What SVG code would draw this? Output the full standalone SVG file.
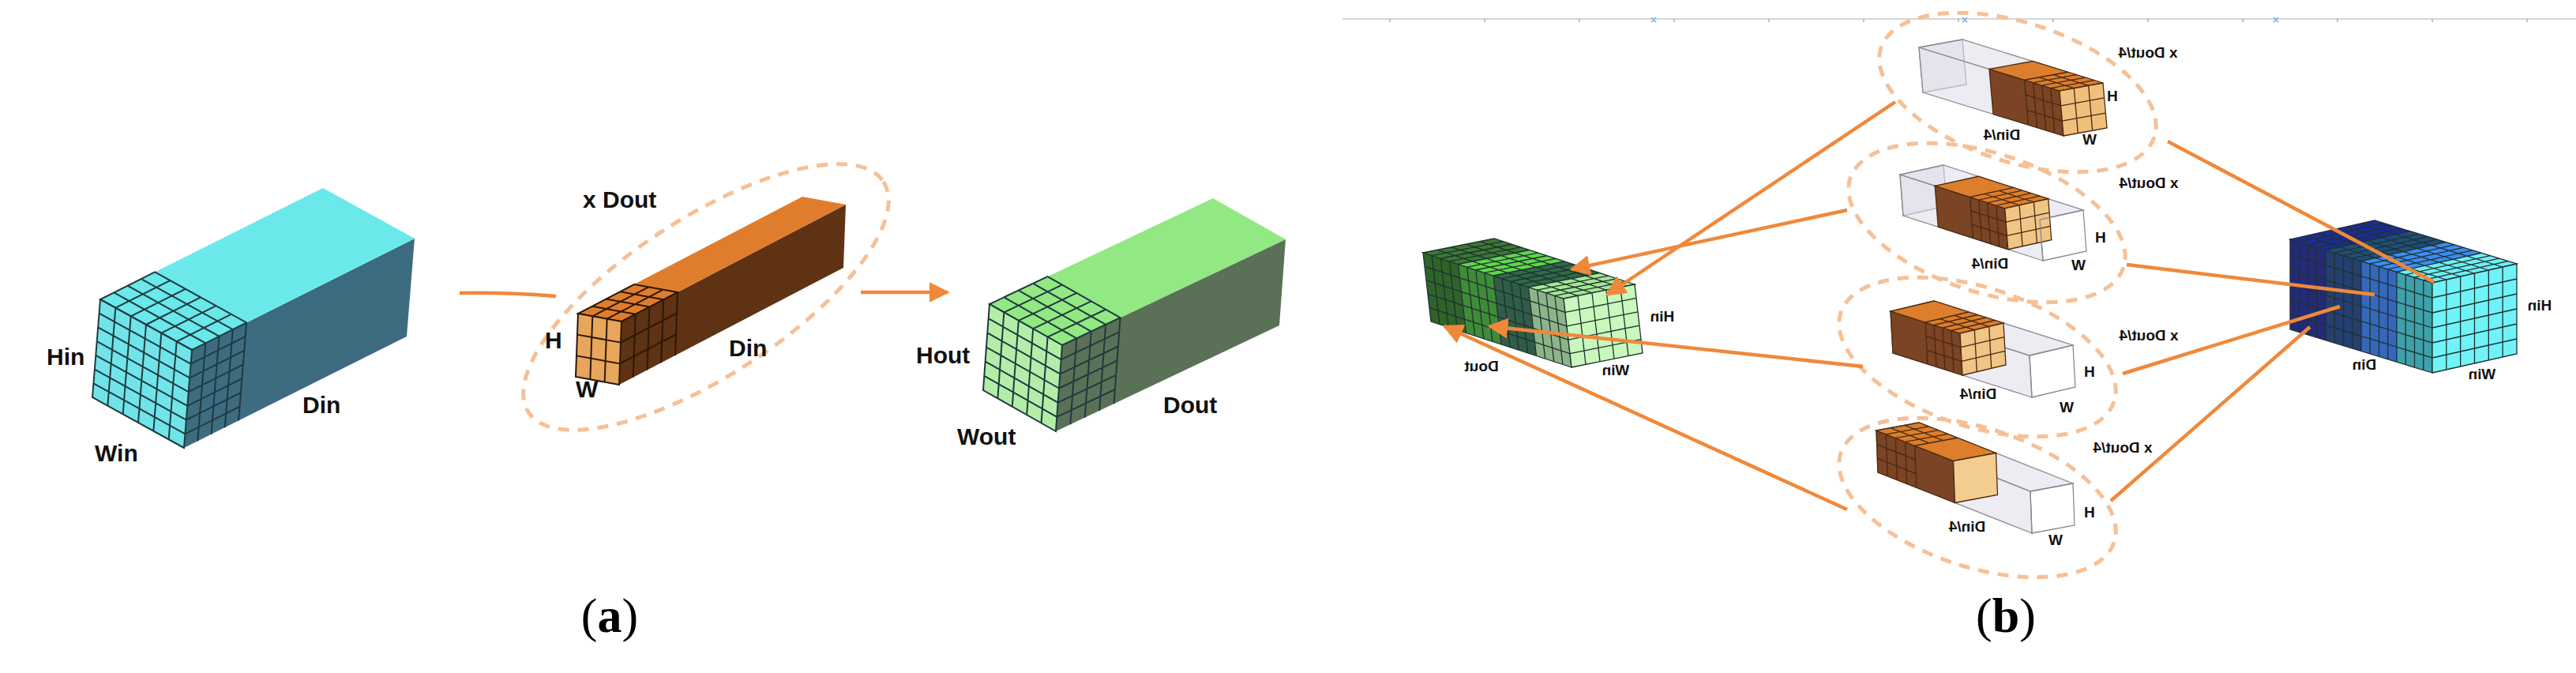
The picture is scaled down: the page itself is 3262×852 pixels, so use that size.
<svg xmlns="http://www.w3.org/2000/svg" width="3262" height="852" viewBox="0 0 3262 852">
<style>
.g{fill:none;stroke:#1f3a40;stroke-width:2;vector-effect:non-scaling-stroke}
.gb{fill:none;stroke:#203030;stroke-width:1.3;vector-effect:non-scaling-stroke}
.go{fill:none;stroke:#4a2a10;stroke-width:1.3;vector-effect:non-scaling-stroke}
.goa{fill:none;stroke:#2a1808;stroke-width:2;vector-effect:non-scaling-stroke}
.wf{fill:#dedce8;fill-opacity:.55;stroke:#8a8a92;stroke-width:1.3;vector-effect:non-scaling-stroke}
.wl{fill:none;stroke:#8a8a92;stroke-width:1.3;vector-effect:non-scaling-stroke}
.la{font-family:"Liberation Sans",Arial,sans-serif;font-weight:bold;font-size:30px;fill:#111}
.lb{font-family:"Liberation Sans",Arial,sans-serif;font-weight:bold;font-size:19px;fill:#111;text-anchor:middle}
.cap{font-family:"Liberation Serif","Times New Roman",serif;font-size:62px;fill:#000;text-anchor:middle}
.ell{fill:none;stroke:#f6c096;stroke-width:5;stroke-dasharray:14 11}
.con{fill:none;stroke:#f0883a;stroke-width:4.5}
</style>
<defs>
<marker id="ah" viewBox="0 0 10 10" refX="9" refY="5" markerWidth="26" markerHeight="26" markerUnits="userSpaceOnUse" orient="auto"><path d="M0 0L10 5L0 10z" fill="#f0883a"/></marker>
</defs>
<rect width="3262" height="852" fill="#fff"/>

<!-- (a) cyan input -->
<g id="cyan-a">
 <g transform="matrix(282 -141 10 -124 233 567)"><rect width="1" height="1" fill="#3d6c80"/><path class="g" d="M.06125 0V1M.1225 0V1M.18375 0V1M.245 0V1M0 .1429H.245M0 .2857H.245M0 .4286H.245M0 .5714H.245M0 .7143H.245M0 .8571H.245"/></g>
 <g transform="matrix(-116 -64 282 -141 243 443)"><rect width="1" height="1" fill="#6ae8ea"/><path class="g" d="M0 0H1V.245H0zM.1667 0V.245M.3333 0V.245M.5 0V.245M.6667 0V.245M.8333 0V.245M0 .06125H1M0 .1225H1M0 .18375H1"/></g>
 <g transform="matrix(-116 -64 10 -124 233 567)"><rect width="1" height="1" fill="#70e4e8"/><path class="g" d="M0 0H1V1H0zM.1667 0V1M.3333 0V1M.5 0V1M.6667 0V1M.8333 0V1M0 .1429H1M0 .2857H1M0 .4286H1M0 .5714H1M0 .7143H1M0 .8571H1"/></g>
 <text class="la" x="59" y="462">Hin</text>
 <text class="la" x="120" y="584">Win</text>
 <text class="la" x="383" y="523">Din</text>
</g>

<!-- (a) orange kernel -->
<g id="kernel-a">
 <ellipse class="ell" cx="894" cy="376" rx="268" ry="100" transform="rotate(-33 894 376)"/>
 <g transform="matrix(284 -148 3 -80 784 487)"><rect width="1" height="1" fill="#5e3213"/><path class="goa" d="M.0625 0V1M.125 0V1M.1875 0V1M.25 0V1M0 .333H.25M0 .667H.25"/></g>
 <g transform="matrix(-55 -10 284 -148 787 407)"><rect width="1" height="1" fill="#e07d2c"/><path class="goa" d="M0 0H1V.25H0zM.333 0V.25M.667 0V.25M0 .0625H1M0 .125H1M0 .1875H1"/></g>
 <g transform="matrix(-55 -10 3 -80 784 487)"><rect width="1" height="1" fill="#e8a55c"/><path class="goa" d="M0 0H1V1H0zM.333 0V1M.667 0V1M0 .333H1M0 .667H1"/></g>
 <text class="la" x="738" y="263">x Dout</text>
 <text class="la" x="690" y="441">H</text>
 <text class="la" x="729" y="503">W</text>
 <text class="la" x="923" y="451">Din</text>
</g>

<!-- (a) green output -->
<g id="green-a">
 <g transform="matrix(283 -134 8 -109 1337 546)"><rect width="1" height="1" fill="#5b7157"/><path class="g" d="M.065 0V1M.13 0V1M.195 0V1M.26 0V1M0 .1667H.26M0 .3333H.26M0 .5H.26M0 .6667H.26M0 .8333H.26"/></g>
 <g transform="matrix(-92 -52 283 -134 1345 437)"><rect width="1" height="1" fill="#92e882"/><path class="g" d="M0 0H1V.26H0zM.2 0V.26M.4 0V.26M.6 0V.26M.8 0V.26M0 .065H1M0 .13H1M0 .195H1"/></g>
 <g transform="matrix(-92 -52 8 -109 1337 546)"><rect width="1" height="1" fill="#b2eea8"/><path class="g" d="M0 0H1V1H0zM.2 0V1M.4 0V1M.6 0V1M.8 0V1M0 .1667H1M0 .3333H1M0 .5H1M0 .6667H1M0 .8333H1"/></g>
 <text class="la" x="1160" y="460">Hout</text>
 <text class="la" x="1212" y="563">Wout</text>
 <text class="la" x="1473" y="523">Dout</text>
</g>

<!-- (b) ruler line -->
<g id="ruler">
 <path d="M1700 24H3262" stroke="#c8c8c8" stroke-width="1.5"/>
 <path d="M1760 24v4M1880 24v4M2000 24v4M2120 24v4M2240 24v4M2360 24v4M2480 24v4M2600 24v4M2720 24v4M2840 24v4M2960 24v4M3080 24v4M3200 24v4" stroke="#b0b0b0" stroke-width="1.5"/>
 <path d="M2091 22l6 6M2097 22l-6 6M2485 22l6 6M2491 22l-6 6M2879 22l6 6M2885 22l-6 6" stroke="#6aa8f0" stroke-width="1.5"/>
</g>

<!-- (b) green output -->
<g id="green-b">
 <g transform="matrix(-178 -58 -10 -87 1990 465)">
  <rect width=".25" height="1" fill="#8db489"/><rect x=".25" width=".25" height="1" fill="#2f5d47"/><rect x=".5" width=".25" height="1" fill="#3e8c38"/><rect x=".75" width=".25" height="1" fill="#2f6429"/>
  <path class="gb" d="M0 0H1V1H0zM.0625 0V1M.125 0V1M.1875 0V1M.25 0V1M.3125 0V1M.375 0V1M.4375 0V1M.5 0V1M.5625 0V1M.625 0V1M.6875 0V1M.75 0V1M.8125 0V1M.875 0V1M.9375 0V1M0 .2H1M0 .4H1M0 .6H1M0 .8H1"/></g>
 <g transform="matrix(90 -18 -178 -58 1980 378)">
  <rect width="1" height=".25" fill="#a4e896"/><rect y=".25" width="1" height=".25" fill="#2e6b48"/><rect y=".5" width="1" height=".25" fill="#5ed84a"/><rect y=".75" width="1" height=".25" fill="#3a7a33"/>
  <path class="gb" d="M0 0H1V1H0zM.2 0V1M.4 0V1M.6 0V1M.8 0V1M0 .0625H1M0 .125H1M0 .1875H1M0 .25H1M0 .3125H1M0 .375H1M0 .4375H1M0 .5H1M0 .5625H1M0 .625H1M0 .6875H1M0 .75H1M0 .8125H1M0 .875H1M0 .9375H1"/></g>
 <g transform="matrix(90 -18 -10 -87 1990 465)"><rect width="1" height="1" fill="#c8f8bc"/><path class="gb" d="M0 0H1V1H0zM.2 0V1M.4 0V1M.6 0V1M.8 0V1M0 .2H1M0 .4H1M0 .6H1M0 .8H1"/></g>
 <text class="lb" transform="matrix(-1 0 0 1 2105 407)">Hin</text>
 <text class="lb" transform="matrix(-1 0 0 1 1876 470)">Dout</text>
 <text class="lb" transform="matrix(-1 0 0 1 2046 475)">Win</text>
</g>

<!-- (b) blue input -->
<g id="blue-b">
 <g transform="matrix(-180 -55 0 -114 3080 472)">
  <rect width=".25" height="1" fill="#3ea0aa"/><rect x=".25" width=".25" height="1" fill="#3568bb"/><rect x=".5" width=".25" height="1" fill="#253f70"/><rect x=".75" width=".25" height="1" fill="#232a78"/>
  <path class="gb" d="M0 0H1V1H0zM.0625 0V1M.125 0V1M.1875 0V1M.25 0V1M.3125 0V1M.375 0V1M.4375 0V1M.5 0V1M.5625 0V1M.625 0V1M.6875 0V1M.75 0V1M.8125 0V1M.875 0V1M.9375 0V1M0 .1667H1M0 .3333H1M0 .5H1M0 .6667H1M0 .8333H1"/></g>
 <g transform="matrix(107 -24 -180 -55 3080 358)">
  <rect width="1" height=".25" fill="#6ef0f4"/><rect y=".25" width="1" height=".25" fill="#3b8df0"/><rect y=".5" width="1" height=".25" fill="#1f4f78"/><rect y=".75" width="1" height=".25" fill="#1a2c95"/>
  <path class="gb" d="M0 0H1V1H0zM.1667 0V1M.3333 0V1M.5 0V1M.6667 0V1M.8333 0V1M0 .0625H1M0 .125H1M0 .1875H1M0 .25H1M0 .3125H1M0 .375H1M0 .4375H1M0 .5H1M0 .5625H1M0 .625H1M0 .6875H1M0 .75H1M0 .8125H1M0 .875H1M0 .9375H1"/></g>
 <g transform="matrix(107 -24 0 -114 3080 472)"><rect width="1" height="1" fill="#6ff3f7"/><path class="gb" d="M0 0H1V1H0zM.1667 0V1M.3333 0V1M.5 0V1M.6667 0V1M.8333 0V1M0 .1667H1M0 .3333H1M0 .5H1M0 .6667H1M0 .8333H1"/></g>
 <text class="lb" transform="matrix(-1 0 0 1 3216 393)">Hin</text>
 <text class="lb" transform="matrix(-1 0 0 1 2994 468)">Din</text>
 <text class="lb" transform="matrix(-1 0 0 1 3143 480)">Win</text>
</g>

<!-- (b) kernel 1 -->
<g id="kernel-b1">
 <ellipse class="ell" cx="2555" cy="117" rx="182" ry="88" transform="rotate(18 2555 117)"/>
 <g transform="matrix(55 -10 -5 -57 2435 117)"><rect width="1" height="1" class="wf"/></g>
 <g transform="matrix(-178 -55 -5 -57 2613 172)"><rect width="1" height="1" class="wf"/></g>
 <g transform="matrix(55 -10 -178 -55 2608 115)"><rect width="1" height="1" class="wf"/></g>
 <g transform="matrix(-178 -55 -5 -57 2613 172)"><rect width=".5" height="1" fill="#7b4424"/><path class="go" d="M0 0H.5V1H0zM.0625 0V1M.125 0V1M.1875 0V1M.25 0V1M0 .333H.25M0 .667H.25"/></g>
 <g transform="matrix(55 -10 -178 -55 2608 115)"><rect width="1" height=".5" fill="#dd7e2c"/><path class="go" d="M0 0H1V.5H0zM.333 0V.25M.667 0V.25M0 .0625H1M0 .125H1M0 .1875H1M0 .25H1"/></g>
 <g transform="matrix(55 -10 -5 -57 2613 172)"><rect width="1" height="1" fill="#f0bf7c"/><path class="go" d="M0 0H1V1H0zM.333 0V1M.667 0V1M0 .333H1M0 .667H1"/></g>
 <text class="lb" transform="matrix(-1 0 0 1 2720 73)">x Dout/4</text>
 <text class="lb" transform="matrix(-1 0 0 1 2675 128)">H</text>
 <text class="lb" transform="matrix(-1 0 0 1 2646 183)">W</text>
 <text class="lb" transform="matrix(-1 0 0 1 2535 177)">Din/4</text>
</g>

<!-- (b) kernel 2 -->
<g id="kernel-b2">
 <ellipse class="ell" cx="2516" cy="282" rx="182" ry="88" transform="rotate(18 2516 282)"/>
 <g transform="matrix(55 -12 -4 -52 2410 273)"><rect width="1" height="1" class="wf"/></g>
 <g transform="matrix(-177 -57 -4 -52 2587 330)"><rect width="1" height="1" class="wf"/></g>
 <g transform="matrix(55 -12 -177 -57 2583 278)"><rect width="1" height="1" class="wf"/></g>
 <g transform="matrix(-177 -57 -4 -52 2587 330)"><rect x=".25" width=".5" height="1" fill="#7b4424"/><path class="go" d="M.25 0H.75V1H.25zM.3125 0V1M.375 0V1M.4375 0V1M.5 0V1M.25 .333H.5M.25 .667H.5"/></g>
 <g transform="matrix(55 -12 -177 -57 2583 278)"><rect y=".25" width="1" height=".5" fill="#dd7e2c"/><path class="go" d="M0 .25H1V.75H0zM.333 .25V.5M.667 .25V.5M0 .3125H1M0 .375H1M0 .4375H1M0 .5H1"/></g>
 <g transform="matrix(55 -12 -4 -52 2542.75 315.75)"><rect width="1" height="1" fill="#f0c585"/><path class="go" d="M0 0H1V1H0zM.333 0V1M.667 0V1M0 .333H1M0 .667H1"/></g>
 <g transform="matrix(55 -12 -4 -52 2587 330)"><rect width="1" height="1" class="wl"/></g>
 <text class="lb" transform="matrix(-1 0 0 1 2721 238)">x Dout/4</text>
 <text class="lb" transform="matrix(-1 0 0 1 2660 307)">H</text>
 <text class="lb" transform="matrix(-1 0 0 1 2632 342)">W</text>
 <text class="lb" transform="matrix(-1 0 0 1 2520 340)">Din/4</text>
</g>

<!-- (b) kernel 3 -->
<g id="kernel-b3">
 <ellipse class="ell" cx="2504" cy="452" rx="182" ry="88" transform="rotate(18 2504 452)"/>
 <g transform="matrix(55 -13 -3 -53 2397 447)"><rect width="1" height="1" class="wf"/></g>
 <g transform="matrix(-176 -56 -3 -53 2573 503)"><rect width="1" height="1" class="wf"/></g>
 <g transform="matrix(55 -13 -176 -56 2570 450)"><rect width="1" height="1" class="wf"/></g>
 <g transform="matrix(-176 -56 -3 -53 2573 503)"><rect x=".5" width=".5" height="1" fill="#7b4424"/><path class="go" d="M.5 0H1V1H.5zM.5625 0V1M.625 0V1M.6875 0V1M.75 0V1M.5 .333H.75M.5 .667H.75"/></g>
 <g transform="matrix(55 -13 -176 -56 2570 450)"><rect y=".5" width="1" height=".5" fill="#dd7e2c"/><path class="go" d="M0 .5H1V1H0zM.333 .5V.75M.667 .5V.75M0 .5625H1M0 .625H1M0 .6875H1M0 .75H1"/></g>
 <g transform="matrix(55 -13 -3 -53 2485 475)"><rect width="1" height="1" fill="#f0c585"/><path class="go" d="M0 0H1V1H0zM.333 0V1M.667 0V1M0 .333H1M0 .667H1"/></g>
 <g transform="matrix(55 -13 -3 -53 2573 503)"><rect width="1" height="1" class="wl"/></g>
 <text class="lb" transform="matrix(-1 0 0 1 2721 431)">x Dout/4</text>
 <text class="lb" transform="matrix(-1 0 0 1 2646 477)">H</text>
 <text class="lb" transform="matrix(-1 0 0 1 2617 522)">W</text>
 <text class="lb" transform="matrix(-1 0 0 1 2505 505)">Din/4</text>
</g>

<!-- (b) kernel 4 -->
<g id="kernel-b4">
 <ellipse class="ell" cx="2504" cy="630" rx="182" ry="88" transform="rotate(18 2504 630)"/>
 <g transform="matrix(54 -10 -2 -53 2378 598)"><rect width="1" height="1" class="wf"/></g>
 <g transform="matrix(-195 -77 -2 -53 2573 675)"><rect width="1" height="1" class="wf"/></g>
 <g transform="matrix(54 -10 -195 -77 2571 622)"><rect width="1" height="1" class="wf"/></g>
 <g transform="matrix(-195 -77 -2 -53 2573 675)"><rect x=".5" width=".5" height="1" fill="#7b4424"/><path class="go" d="M.5 0H1V1H.5zM.75 0V1M.8125 0V1M.875 0V1M.9375 0V1M.75 .333H1M.75 .667H1"/></g>
 <g transform="matrix(54 -10 -195 -77 2571 622)"><rect y=".5" width="1" height=".5" fill="#dd7e2c"/><path class="go" d="M0 .5H1V1H0zM.333 .75V1M.667 .75V1M0 .75H1M0 .8125H1M0 .875H1M0 .9375H1"/></g>
 <g transform="matrix(54 -10 -2 -53 2475.5 636.5)"><rect width="1" height="1" fill="#f3cd8f"/><path class="go" d="M0 0H1V1H0z"/></g>
 <g transform="matrix(54 -10 -2 -53 2573 675)"><rect width="1" height="1" class="wl"/></g>
 <text class="lb" transform="matrix(-1 0 0 1 2688 573)">x Dout/4</text>
 <text class="lb" transform="matrix(-1 0 0 1 2646 655)">H</text>
 <text class="lb" transform="matrix(-1 0 0 1 2603 690)">W</text>
 <text class="lb" transform="matrix(-1 0 0 1 2491 673)">Din/4</text>
</g>

<!-- connectors -->
<g id="connectors">
 <path class="con" stroke-width="6" d="M582 371Q640 370 704 375"/>
 <path class="con" stroke-width="6" d="M1090 370H1200" marker-end="url(#ah)"/>
 <path class="con" d="M2400 129L2035 373" marker-end="url(#ah)"/>
 <path class="con" d="M2339 266L1990 341" marker-end="url(#ah)"/>
 <path class="con" d="M2359 464L1886 413" marker-end="url(#ah)"/>
 <path class="con" d="M2339 645L1829 413" marker-end="url(#ah)"/>
 <path class="con" d="M2745 179L3082 357"/>
 <path class="con" d="M2693 335L3007 373"/>
 <path class="con" d="M2688 473L2963 388"/>
 <path class="con" d="M2673 634L2925 414"/>
</g>

<text class="cap" x="772" y="800">(<tspan font-weight="bold">a</tspan>)</text>
<text class="cap" x="2540" y="800">(<tspan font-weight="bold">b</tspan>)</text>
</svg>
